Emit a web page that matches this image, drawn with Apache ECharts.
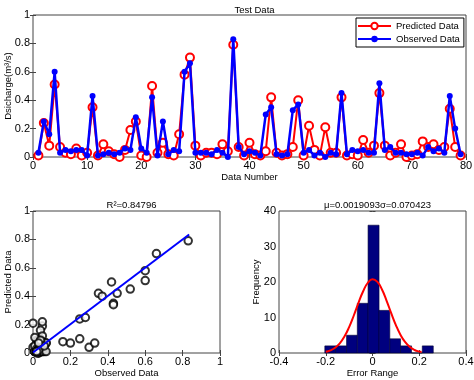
<!DOCTYPE html>
<html>
<head>
<meta charset="utf-8">
<script src="https://cdn.jsdelivr.net/npm/echarts@6/dist/echarts.min.js"></script>
<style>
html,body{margin:0;padding:0;background:#fff;}
#c{width:474px;height:380px;}
</style>
</head>
<body>
<div id="c"></div>
<script>
// ---- Data ----
const observed = [0.03,0.25,0.16,0.60,0.03,0.05,0.04,0.05,0.05,0.01,
  0.43,0.01,0.02,0.03,0.02,0.03,0.06,0.05,0.28,0.06,
  0.03,0.42,0.01,0.25,0.02,0.05,0.04,0.60,0.66,0.03,
  0.03,0.03,0.02,0.05,0.03,0.00,0.83,0.07,0.02,0.04,
  0.03,0.01,0.30,0.35,0.02,0.01,0.02,0.33,0.37,0.03,
  0.05,0.01,0.03,0.00,0.03,0.02,0.45,0.02,0.05,0.04,
  0.05,0.03,0.03,0.52,0.05,0.07,0.03,0.03,0.02,0.02,
  0.03,0.01,0.07,0.04,0.06,0.03,0.43,0.20,0.02];
const predicted = [0.01,0.24,0.08,0.51,0.07,0.03,0.02,0.06,0.01,0.03,
  0.35,0.01,0.09,0.04,0.02,0.00,0.05,0.19,0.25,0.01,
  0.00,0.50,0.03,0.10,0.02,0.01,0.16,0.58,0.70,0.08,
  0.01,0.03,0.03,0.02,0.09,0.04,0.79,0.07,0.01,0.10,
  0.02,0.01,0.04,0.42,0.03,0.01,0.02,0.07,0.40,0.01,
  0.22,0.05,0.01,0.21,0.03,0.03,0.42,0.01,0.02,0.01,
  0.12,0.03,0.08,0.45,0.08,0.01,0.03,0.09,0.00,0.01,
  0.02,0.11,0.07,0.09,0.05,0.07,0.34,0.07,0.01];
const dataNumber = observed.map((v, i) => i + 1);

// regression line end points
const fitX = [0.0, 0.835];
const fitY = [0.003, 0.835];

// histogram of errors
const binEdges = [-0.204,-0.158,-0.111,-0.065,-0.019,0.028,0.074,0.120,0.167,0.213,0.260];
const binCounts = [2,2,5,14,36,12,4,2,0,2];

// fitted normal curve
const curveX = [-0.20,-0.18,-0.16,-0.14,-0.12,-0.10,-0.08,-0.06,-0.04,-0.02,0,0.02,0.04,0.06,0.08,0.10,0.12,0.14,0.16,0.18,0.20,0.21];
const curveY = [0.34,0.74,1.48,2.73,4.64,7.29,10.56,14.12,17.40,19.79,20.76,20.09,17.94,14.78,11.23,7.87,5.09,3.04,1.67,0.85,0.40,0.26];

// titles
const titles = ['Test Data', 'R\u00b2=0.84796', '\u03bc=0.0019093\u03c3=0.070423'];

// ---- Chart ----
const FONT = 'Liberation Sans, Arial, sans-serif';
const chart = echarts.init(document.getElementById('c'), null, {renderer: 'canvas'});

const grids = [
  {left: 33, top: 15, width: 433, height: 142},
  {left: 33, top: 211, width: 187, height: 142},
  {left: 279, top: 211, width: 187, height: 142}
].map(g => Object.assign({show: true, borderColor: '#444', borderWidth: 1, backgroundColor: '#fff', containLabel: false, outerBoundsMode: 'none'}, g));

const labelStyle = {color: '#000', fontSize: 11, fontFamily: FONT, margin: 3};
const nameStyle = {color: '#000', fontSize: 9.5, fontFamily: FONT};
const tick = {show: true, inside: true, length: 3, lineStyle: {color: '#444'}};

function mainAxis(gridIndex, min, max, interval, name, gap, pos) {
  return {
    type: 'value', gridIndex, min, max, interval, position: pos,
    name, nameLocation: 'middle', nameGap: gap, nameTextStyle: nameStyle,
    nameMoveOverlap: false,
    axisLine: {show: false}, axisTick: tick, splitLine: {show: false},
    axisLabel: labelStyle
  };
}
function mirrorAxis(gridIndex, min, max, interval, pos) {
  return {
    type: 'value', gridIndex, min, max, interval, position: pos,
    axisLine: {show: false}, axisTick: tick, splitLine: {show: false},
    axisLabel: {show: false}
  };
}

const option = {
  animation: false,
  backgroundColor: '#fff',
  textStyle: {fontFamily: FONT},
  title: [
    {text: titles[0], left: 249.5, top: 0, textAlign: 'center', textStyle: {fontSize: 9.5, fontWeight: 'normal', color: '#000', fontFamily: FONT}},
    {text: titles[1], left: 126.5, top: 195, textAlign: 'center', textStyle: {fontSize: 9.5, fontWeight: 'normal', color: '#000', fontFamily: FONT}},
    {text: titles[2], left: 372.5, top: 195, textAlign: 'center', textStyle: {fontSize: 9.5, fontWeight: 'normal', color: '#000', fontFamily: FONT}}
  ],
  legend: {
    data: ['Predicted Data', 'Observed Data'],
    orient: 'vertical', left: 356, top: 18,
    backgroundColor: '#fff', borderColor: '#000', borderWidth: 1,
    padding: [3, 4, 3, 1], itemGap: 3, itemWidth: 33, itemHeight: 8,
    textStyle: {fontSize: 9.5, color: '#000', fontFamily: FONT}
  },
  grid: grids,
  xAxis: [
    mainAxis(0, 0, 80, 10, 'Data Number', 15, 'bottom'),
    mainAxis(1, 0, 1, 0.2, 'Observed Data', 15, 'bottom'),
    mainAxis(2, -0.4, 0.4, 0.2, 'Error Range', 15, 'bottom'),
    mirrorAxis(0, 0, 80, 10, 'top'),
    mirrorAxis(1, 0, 1, 0.2, 'top'),
    mirrorAxis(2, -0.4, 0.4, 0.2, 'top')
  ],
  yAxis: [
    mainAxis(0, 0, 1, 0.2, 'Dsicharge(m\u00b3/s)', 20, 'left'),
    mainAxis(1, 0, 1, 0.2, 'Predicted Data', 20, 'left'),
    mainAxis(2, 0, 40, 10, 'Frequency', 18, 'left'),
    mirrorAxis(0, 0, 1, 0.2, 'right'),
    mirrorAxis(1, 0, 1, 0.2, 'right'),
    mirrorAxis(2, 0, 40, 10, 'right')
  ],
  series: [
    {
      name: 'Predicted Data', type: 'line', xAxisIndex: 0, yAxisIndex: 0,
      data: dataNumber.map((x, i) => [x, predicted[i]]),
      symbol: 'emptyCircle', symbolSize: 8,
      lineStyle: {color: '#ff0000', width: 2},
      itemStyle: {color: '#ff0000', borderColor: '#ff0000', borderWidth: 1.6},
      z: 2
    },
    {
      name: 'Observed Data', type: 'line', xAxisIndex: 0, yAxisIndex: 0,
      data: dataNumber.map((x, i) => [x, observed[i]]),
      symbol: 'circle', symbolSize: 6,
      lineStyle: {color: '#0000ff', width: 2.5},
      itemStyle: {color: '#0000ff'},
      z: 3
    },
    {
      name: 'scatter', type: 'scatter', xAxisIndex: 1, yAxisIndex: 1,
      data: observed.map((o, i) => [o, predicted[i]]),
      symbol: 'emptyCircle', symbolSize: 7.5,
      itemStyle: {color: '#000', borderColor: '#000', borderWidth: 1.7}
    },
    {
      name: 'fit', type: 'line', xAxisIndex: 1, yAxisIndex: 1,
      data: fitX.map((x, i) => [x, fitY[i]]),
      symbol: 'none', lineStyle: {color: '#0000ff', width: 2}, z: 4
    },
    {
      name: 'hist', type: 'custom', xAxisIndex: 2, yAxisIndex: 2,
      data: binCounts.map((c, i) => [binEdges[i], binEdges[i + 1], c]),
      renderItem: function (params, api) {
        const p0 = api.coord([api.value(0), api.value(2)]);
        const p1 = api.coord([api.value(1), 0]);
        return {
          type: 'rect',
          shape: {x: p0[0], y: p0[1], width: p1[0] - p0[0], height: p1[1] - p0[1]},
          style: {fill: '#00007f', stroke: '#000033', lineWidth: 0.6}
        };
      },
      z: 2
    },
    {
      name: 'normal', type: 'line', xAxisIndex: 2, yAxisIndex: 2,
      data: curveX.map((x, i) => [x, curveY[i]]),
      smooth: true, symbol: 'none',
      lineStyle: {color: '#ff0000', width: 2}, z: 5
    }
  ]
};
chart.setOption(option);
</script>
</body>
</html>
